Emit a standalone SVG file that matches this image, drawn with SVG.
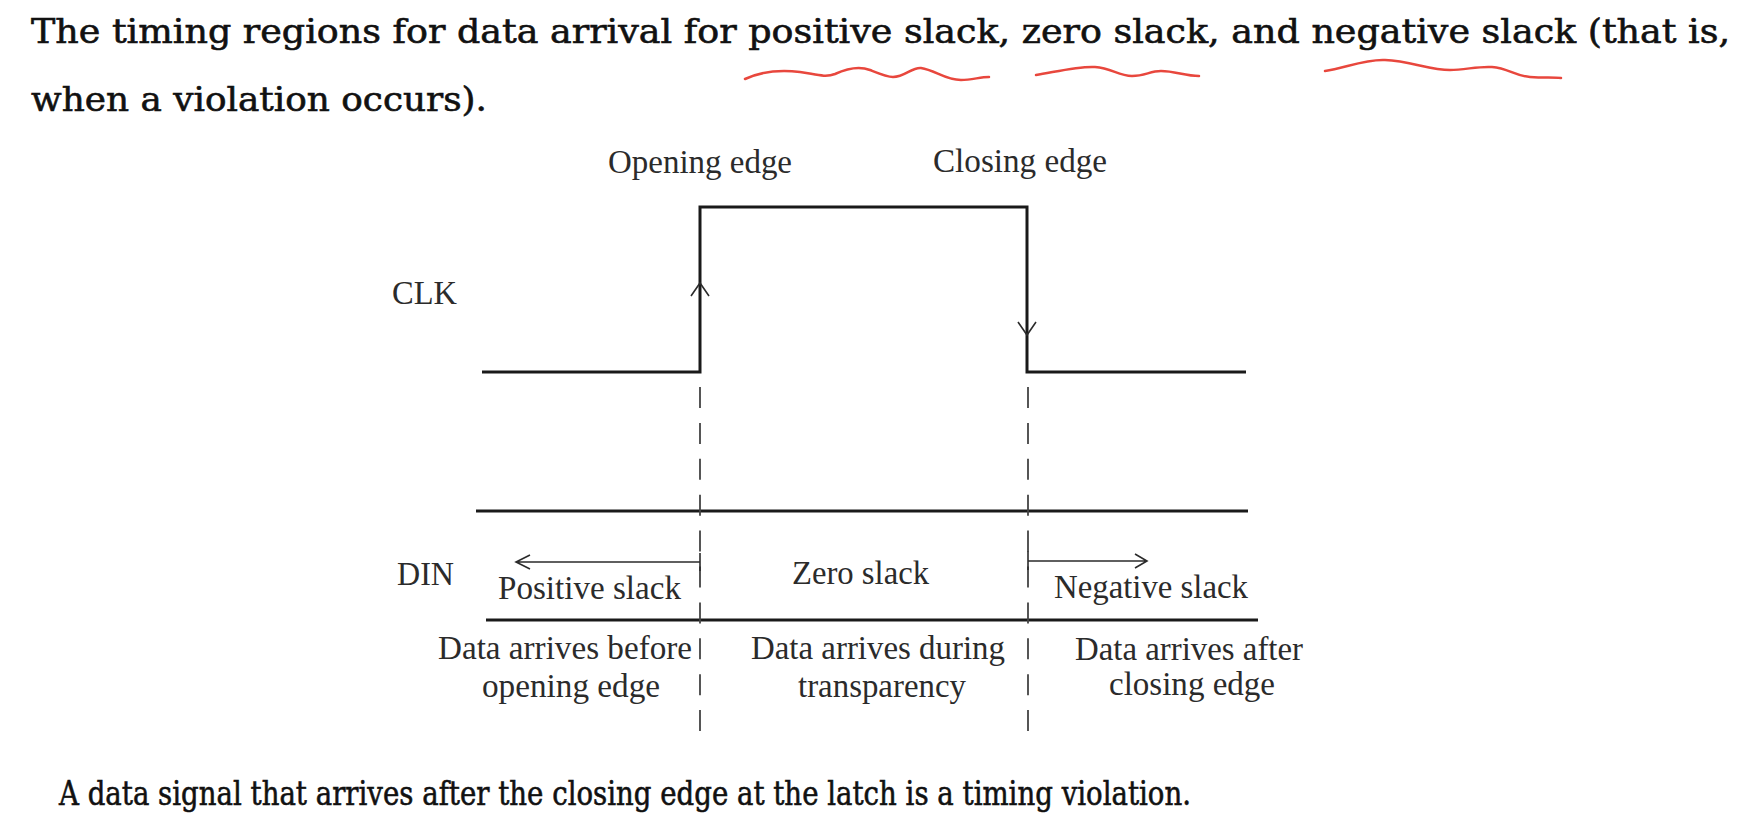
<svg xmlns="http://www.w3.org/2000/svg" width="1745" height="827" viewBox="0 0 1745 827">
<style>
.title{font-family:"DejaVu Serif","Liberation Serif",serif;font-size:33px;fill:#111;stroke:#111;stroke-width:0.6}
.lbl{font-family:"Liberation Serif","Times New Roman",serif;font-size:33px;fill:#2b2b2b}
.sig{fill:none;stroke:#1a1a1a;stroke-width:3}
.thin{fill:none;stroke:#2b2b2b;stroke-width:1.6}
.dash{fill:none;stroke:#444;stroke-width:1.8;stroke-dasharray:21 14.9}
.squig{fill:none;stroke:#e8473d;stroke-width:2.5;stroke-linecap:round}
</style>
<rect width="1745" height="827" fill="#fff"/>
<g id="heading">
<text class="title" x="31" y="43" textLength="1699" lengthAdjust="spacingAndGlyphs">The timing regions for data arrival for positive slack, zero slack, and negative slack (that is,</text>
<text class="title" x="31" y="111" textLength="456" lengthAdjust="spacingAndGlyphs">when a violation occurs).</text>
</g>
<g id="underlines">
<path class="squig" d="M745,79 C765,70 785,70 800,72 C815,74 825,78 835,74 C848,68 860,66 870,70 C880,74 887,77 893,77 C905,77 912,67 921,68 C935,70 945,80 961,80 C972,80 980,77 989,77"/>
<path class="squig" d="M1036,75 C1055,72 1078,66 1095,67 C1112,68 1118,76 1132,76 C1145,76 1150,71 1161,71 C1175,71 1185,76 1199,76"/>
<path class="squig" d="M1325,71 C1345,68 1365,59 1385,60 C1410,61 1430,70 1450,70 C1465,70 1478,66 1492,67 C1508,68 1515,76 1530,77 C1545,78 1553,77 1561,78"/>
</g>
<g id="clk">
<text class="lbl" x="392" y="304" textLength="65" lengthAdjust="spacingAndGlyphs">CLK</text>
<path class="sig" d="M482,372 H700 V207 H1027 V372 H1246"/>
</g>
<g id="opening-edge">
<text class="lbl" x="608" y="173" textLength="184" lengthAdjust="spacingAndGlyphs">Opening edge</text>
</g>
<g id="closing-edge">
<text class="lbl" x="933" y="172" textLength="174" lengthAdjust="spacingAndGlyphs">Closing edge</text>
</g>
<g id="din">
<text class="lbl" x="397" y="585" textLength="57" lengthAdjust="spacingAndGlyphs">DIN</text>
<line class="sig" x1="476" y1="511" x2="1248" y2="511"/>
<line class="sig" x1="486" y1="620" x2="1258" y2="620"/>
</g>
<g id="positive-slack">
<text class="lbl" x="498" y="599" textLength="183" lengthAdjust="spacingAndGlyphs">Positive slack</text>
<text class="lbl" x="438" y="659" textLength="254" lengthAdjust="spacingAndGlyphs">Data arrives before</text>
<text class="lbl" x="482" y="697" textLength="178" lengthAdjust="spacingAndGlyphs">opening edge</text>
</g>
<g id="zero-slack">
<text class="lbl" x="792" y="584" textLength="137" lengthAdjust="spacingAndGlyphs">Zero slack</text>
<text class="lbl" x="751" y="659" textLength="254" lengthAdjust="spacingAndGlyphs">Data arrives during</text>
<text class="lbl" x="798" y="697" textLength="168" lengthAdjust="spacingAndGlyphs">transparency</text>
</g>
<g id="negative-slack">
<text class="lbl" x="1054" y="598" textLength="194" lengthAdjust="spacingAndGlyphs">Negative slack</text>
<text class="lbl" x="1075" y="660" textLength="228" lengthAdjust="spacingAndGlyphs">Data arrives after</text>
<text class="lbl" x="1109" y="695" textLength="166" lengthAdjust="spacingAndGlyphs">closing edge</text>
</g>
<g id="connectors">
<line class="dash" x1="700" y1="387" x2="700" y2="731"/>
<line class="dash" x1="1028" y1="387" x2="1028" y2="731"/>
<path class="thin" d="M691,296 L700,283 L709,296"/>
<path class="thin" d="M1018,322 L1027,335 L1036,322"/>
<path class="thin" d="M700,553 V571 M700,562 H516 M530,555 L516,562 L530,569"/>
<path class="thin" d="M1028,551 V570 M1028,561 H1147 M1135,554 L1147,561 L1135,568"/>
</g>
<g id="footer">
<text class="title" x="59" y="805" textLength="1132" lengthAdjust="spacingAndGlyphs">A data signal that arrives after the closing edge at the latch is a timing violation.</text>
</g>
</svg>
